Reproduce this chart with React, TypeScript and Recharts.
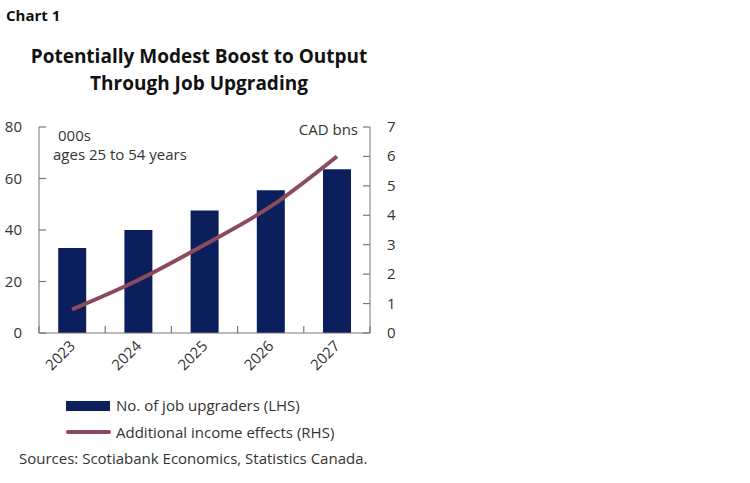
import { ComposedChart, Bar, Line, XAxis, YAxis } from 'recharts'

const years = ['2023', '2024', '2025', '2026', '2027']
const upgraders = [33, 40, 47.6, 55.4, 63.6]
const incomeEffects = [0.8, 1.8, 3.0, 4.3, 6.0]
const leftTicks = [0, 20, 40, 60, 80]
const rightTicks = [0, 1, 2, 3, 4, 5, 6, 7]

const data = years.map((year, i) => ({
  year,
  upgraders: upgraders[i],
  income: incomeEffects[i],
}))

const FONT = "'Open Sans', 'Noto Sans', sans-serif"
const NAVY = '#0b1f5c'
const MAROON = '#8c4a5d'
const AXIS = '#777777'
const TEXT = '#333333'

const plotLeft = 39
const plotRight = 370
const band = (plotRight - plotLeft) / years.length

const LeftTick = (props: any) => {
  const { x, y, payload } = props
  return (
    <g>
      <line x1={x + 17} x2={x + 24} y1={y} y2={y} stroke={AXIS} strokeWidth={1.2} />
      <text x={x} y={y} dy={5} textAnchor="end" fontSize={15} fill={TEXT} fontFamily={FONT}>
        {payload.value}
      </text>
    </g>
  )
}

const RightTick = (props: any) => {
  const { x, y, payload } = props
  return (
    <g>
      <line x1={x - 17} x2={x - 24} y1={y} y2={y} stroke={AXIS} strokeWidth={1.2} />
      <text x={x} y={y} dy={5} textAnchor="start" fontSize={15} fill={TEXT} fontFamily={FONT}>
        {payload.value}
      </text>
    </g>
  )
}

const BottomTick = (props: any) => {
  const { x, y, payload, index } = props
  const axisY = y - 14
  return (
    <g>
      <line x1={x - band / 2} x2={x - band / 2} y1={axisY} y2={axisY - 7} stroke={AXIS} strokeWidth={1.2} />
      {index === years.length - 1 && (
        <line x1={x + band / 2} x2={x + band / 2} y1={axisY} y2={axisY - 7} stroke={AXIS} strokeWidth={1.2} />
      )}
      <text
        x={x + 4}
        y={y}
        textAnchor="end"
        fontSize={15}
        fill={TEXT}
        fontFamily={FONT}
        transform={`rotate(-45 ${x + 4} ${y})`}
      >
        {payload.value}
      </text>
    </g>
  )
}

const abs = (left: number, top: number, extra: any = {}) => ({
  position: 'absolute' as const,
  left,
  top,
  fontFamily: FONT,
  color: TEXT,
  fontSize: 15,
  whiteSpace: 'nowrap' as const,
  lineHeight: '17px',
  ...extra,
})

export default function App() {
  return (
    <div style={{ position: 'absolute', left: 0, top: 0, width: 750, height: 483, background: '#fff' }}>
      <div style={abs(6, 7, { fontWeight: 700, color: '#111', fontSize: 15 })}>Chart 1</div>
      <div
        style={abs(0, 43, {
          width: 398,
          textAlign: 'center',
          fontWeight: 700,
          fontSize: 19,
          lineHeight: '27px',
          color: '#111',
        })}
      >
        Potentially Modest Boost to Output
        <br />
        Through Job Upgrading
      </div>

      <ComposedChart
        width={750}
        height={483}
        data={data}
        margin={{ top: 127, right: 750 - plotRight - 30, bottom: 120, left: plotLeft - 30 }}
        barCategoryGap="29%"
      >
        <XAxis
          dataKey="year"
          height={30}
          tickSize={0}
          tickMargin={14}
          tickLine={false}
          stroke={AXIS}
          tick={<BottomTick />}
          interval={0}
        />
        <YAxis
          yAxisId="left"
          width={30}
          domain={[0, 80]}
          ticks={leftTicks}
          tickSize={0}
          tickMargin={17}
          tickLine={false}
          stroke={AXIS}
          tick={<LeftTick />}
          interval={0}
        />
        <YAxis
          yAxisId="right"
          orientation="right"
          width={30}
          domain={[0, 7]}
          ticks={rightTicks}
          tickSize={0}
          tickMargin={17}
          tickLine={false}
          stroke={AXIS}
          tick={<RightTick />}
          interval={0}
        />
        <Bar yAxisId="left" dataKey="upgraders" fill={NAVY} isAnimationActive={false} />
        <Line
          yAxisId="right"
          type="monotone"
          dataKey="income"
          stroke={MAROON}
          strokeWidth={4}
          dot={false}
          isAnimationActive={false}
        />
      </ComposedChart>

      <div style={abs(58, 127)}>000s</div>
      <div style={abs(53, 146)}>ages 25 to 54 years</div>
      <div style={abs(0, 121, { width: 358, textAlign: 'right' })}>CAD bns</div>

      <div style={{ position: 'absolute', left: 66, top: 401, width: 44, height: 10, background: NAVY }} />
      <div style={abs(116, 397)}>No. of job upgraders (LHS)</div>
      <div style={{ position: 'absolute', left: 66, top: 430, width: 45, height: 4, borderRadius: 2, background: MAROON }} />
      <div style={abs(116, 424)}>Additional income effects (RHS)</div>
      <div style={abs(19, 450)}>Sources: Scotiabank Economics, Statistics Canada.</div>
    </div>
  )
}
